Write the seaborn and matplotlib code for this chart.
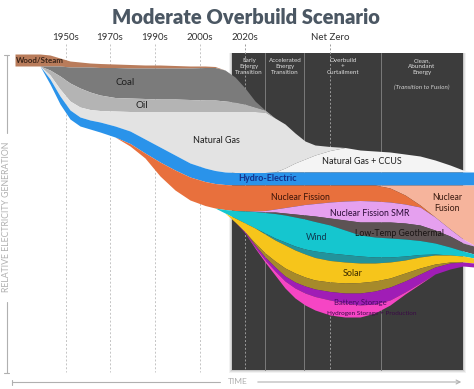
import numpy as np
import pandas as pd
import matplotlib
matplotlib.use("Agg")
import matplotlib.pyplot as plt
from matplotlib.patches import Rectangle
import seaborn as sns

# ---------------- data (relative generation, stacked from the top edge) ----------------
x_pos = [15, 40, 50, 60, 70, 80, 90, 100, 115, 130, 145, 160, 175, 190, 205, 215, 225, 235,
         245, 255, 265, 275, 285, 295, 305, 315, 330, 345, 360, 375, 390, 405, 420, 435, 450, 463, 474]
top_edge = [54, 54, 55, 58, 61, 62, 63, 63.5, 64, 64.5, 65, 65, 65.5, 66, 66, 66.5, 70, 77,
            88, 101, 110, 118, 124, 133, 141, 145, 146.5, 147.5, 150, 151, 152, 154, 156, 160, 165, 170, 172]

wood = [12, 12, 11, 8, 6, 5, 4, 4, 3.5, 3.5, 3, 3, 2.5, 2, 1.5, 1] + [0] * 21
coal = [0, 0, 4, 10, 16, 21, 25, 27.5, 30, 30, 30.5, 31, 31, 31.5, 32.5, 32.5, 31, 25, 16, 6] + [0] * 17
oil = [0, 0, 5, 13, 18, 19, 17.5, 15.5, 13.5, 13.5, 13, 12.5, 12.5, 12, 11.5, 11.5, 10.5, 9.5, 7.5, 4.5, 2] + [0] * 16
gas = [0, 0, 4, 7, 9, 10, 10.5, 11.5, 15, 19.5, 27.5, 35.5, 43.5, 51.5, 56.5, 59, 60.5, 61, 61, 61, 60.5,
       54, 44, 30, 18, 10, 4] + [0] * 10
gas_ccus = [0] * 22 + [4, 9, 13, 17, 21.5, 24.5, 22, 21, 20, 18, 16, 12, 7, 2, 0]
hydro = [0, 0, 5, 8, 9, 9, 9, 10, 11, 12.5, 14, 15, 15, 14, 13.5, 13, 12.5, 12.5, 12.5, 12.5, 12.5] + [13] * 16
fusion = [0] * 30 + [3, 10, 20, 32, 44, 54, 60]
fission = [0] * 9 + [2.5, 5, 14, 20, 23, 24, 24.5, 25, 25.5, 26, 26, 25.5, 24, 22.5, 21, 19.5, 18.5, 17, 16,
                     15.5, 16, 14, 9, 2, 0, 0, 0, 0]
smr = [0] * 19 + [0.5, 1.5, 3, 5.5, 8, 10.5, 12.5, 16, 19, 21.5, 21, 20, 19, 18, 13, 7, 4, 1]
geothermal = [0] * 20 + [0.5, 1.5, 2, 3, 4, 5.5, 7, 10, 13, 15, 16, 16, 15.5, 13, 11, 8, 8]
wind = [0] * 16 + [3.5, 7.5, 12, 16.5, 20.5, 24.5, 27, 29, 30, 29.5, 28, 24.5, 21, 20, 19, 17, 14, 11, 8, 5, 4]
wind_curtailed = [0] * 20 + [1, 2, 3, 4, 5, 6.5, 7.5, 7.5, 7, 6, 5, 4, 2.5, 1, 0, 0, 0]
solar = [0] * 17 + [4, 9, 15, 19, 21, 23, 23, 23, 22.5, 21.5, 21, 19.5, 18, 16, 13, 11, 9, 7, 6, 5]
solar_curtailed = [0] * 19 + [2, 4, 6, 8, 9, 9, 9, 9.5, 10, 10.5, 10, 9, 8, 6, 3, 1, 0, 0]
battery = [0] * 18 + [1, 2, 3, 4, 5, 6, 7, 7.5, 8.5, 10, 12, 13, 13, 11, 9, 7, 6, 4, 4]
hydrogen = [0] * 19 + [1, 2, 4, 7, 10, 12, 13.5, 15, 14, 12, 9, 5, 2, 1, 0, 0, 0, 0]

layer_names = ["Wood/Steam", "Coal", "Oil", "Natural Gas", "Natural Gas + CCUS", "Hydro-Electric",
               "Nuclear Fusion", "Nuclear Fission", "Nuclear Fission SMR", "Low-Temp Geothermal",
               "Wind", "Wind (curtailed)", "Solar", "Solar (curtailed)", "Battery Storage",
               "Hydrogen Storage + Production"]
layer_values = [wood, coal, oil, gas, gas_ccus, hydro, fusion, fission, smr, geothermal,
                wind, wind_curtailed, solar, solar_curtailed, battery, hydrogen]
layer_colors = ["#b97c5b", "#7b7b7b", "#b4b4b4", "#e3e3e3", "#f4f4f4", "#2a93ea",
                "#f6b49c", "#e8703d", "#e5a0ef", "#5d5354", "#15c6cf", "#22939b",
                "#f6c51b", "#a68a2b", "#a01db6", "#f545c4"]

decade_labels = ["1950s", "1970s", "1990s", "2000s", "2020s", "Net Zero"]
decade_x = [66, 110, 155, 200, 245, 330]

phase_labels = ["Early\nEnergy\nTransition", "Accelerated\nEnergy\nTransition",
                "Overbuild\n+\nCurtailment", "Clean,\nAbundant\nEnergy"]
phase_x = [249, 285, 343, 422]

# ---------------- figure ----------------
sns.set_theme(style="white")
plt.rcParams["font.family"] = ["Lato", "DejaVu Sans"]

fig = plt.figure(figsize=(4.74, 3.89), dpi=100)
ax = fig.add_axes([0, 0, 1, 1])
ax.set_xlim(0, 474)
ax.set_ylim(389, 0)
ax.axis("off")

# dark scenario panel with soft shadow
for i, a in enumerate([0.05, 0.07, 0.1]):
    off = 3 - i
    ax.add_patch(Rectangle((232 - off, 53), 231 + 2 * off, 317 + off, color="black", alpha=a, lw=0, zorder=1))
ax.add_patch(Rectangle((232, 53), 231, 317, color="#3c3c3c", lw=0, zorder=1.2))
for sx in [265, 304, 381]:
    ax.plot([sx, sx], [53, 370], color="#7a7a7a", lw=0.7, zorder=1.5)

# decade guide lines
for dx in decade_x:
    inside = dx > 232
    ax.plot([dx, dx], [44, 372 if not inside else 370], color="#c4c4c4" if not inside else "#9a9a9a",
            lw=0.7, ls=(0, (2, 2)), zorder=1.6)
for lbl, dx in zip(decade_labels, decade_x):
    ax.text(dx, 37, lbl, ha="center", va="center", fontsize=7, color="#333333", zorder=5)

# phase texts
for lbl, px in zip(phase_labels, phase_x):
    ax.text(px, 58, lbl, ha="center", va="top", fontsize=4.5, color="#dcdcdc",
            linespacing=1.3, zorder=5)
ax.text(422, 87, "(Transition to Fusion)", ha="center", va="center", fontsize=4.5,
        color="#cfcfcf", style="italic", zorder=5)

# stacked stream
vals = np.array(layer_values, dtype=float)
bounds = np.array(top_edge, dtype=float) + np.vstack([np.zeros(len(x_pos)), np.cumsum(vals, axis=0)])
rows = []
for i, (name, col) in enumerate(zip(layer_names, layer_colors)):
    ax.fill_between(x_pos, bounds[i], bounds[i + 1], where=vals[i] > 0, interpolate=True,
                    color=col, lw=0, zorder=3 + i * 0.01)
    for xv, yv, v in zip(x_pos, bounds[i + 1], vals[i]):
        rows.append({"x": xv, "y": yv, "layer": name, "v": v})
df = pd.DataFrame(rows)

# title
ax.text(246, 17, "Moderate Overbuild Scenario", ha="center", va="center", fontsize=14.5,
        fontweight="heavy", color="#4b5763")

# stream labels
lab = dict(ha="center", va="center", zorder=6)
ax.text(16, 60, "Wood/Steam", ha="left", va="center", fontsize=5.8, fontweight="bold", color="#3a2418", zorder=6)
ax.text(125, 82, "Coal", fontsize=7, color="#1e1e1e", **lab)
ax.text(142, 105, "Oil", fontsize=7, color="#1e1e1e", **lab)
ax.text(216, 140, "Natural Gas", fontsize=6.5, color="#1e1e1e", **lab)
ax.text(362, 161, "Natural Gas + CCUS", fontsize=6.5, color="#1e1e1e", **lab)
ax.text(268, 178, "Hydro-Electric", fontsize=6.5, fontweight="bold", color="#15308a", **lab)
ax.text(300, 197, "Nuclear Fission", fontsize=6.3, color="#3a1408", **lab)
ax.text(370, 213, "Nuclear Fission SMR", fontsize=6.3, color="#2a0a35", **lab)
ax.text(447, 203, "Nuclear\nFusion", fontsize=6.3, color="#3a1a10", linespacing=1.3, **lab)
ax.text(400, 233, "Low-Temp Geothermal", fontsize=6.3, color="#1a1414", **lab)
ax.text(317, 237, "Wind", fontsize=6.5, color="#0e3850", **lab)
ax.text(353, 274, "Solar", fontsize=6.5, color="#3a2a00", **lab)
ax.text(360, 302, "Battery Storage", fontsize=5.5, color="#4a0a62", **lab)
ax.text(372, 313, "Hydrogen Storage + Production", fontsize=4.6, color="#3a0a45", **lab)

# axis annotations
gc = "#b0b0b0"
ax.plot([7, 7], [55, 133], color=gc, lw=0.8)
ax.plot([4.5, 9.5], [55, 55], color=gc, lw=0.8)
ax.plot([7, 7], [302, 373], color=gc, lw=0.8)
ax.plot([4.5, 9.5], [373, 373], color=gc, lw=0.8)
ax.text(7, 217, "RELATIVE ELECTRICITY GENERATION", rotation=90, ha="center", va="center",
        fontsize=6.3, color=gc)
ax.plot([12, 220], [382, 382], color=gc, lw=0.8)
ax.plot([12, 12], [379.5, 384.5], color=gc, lw=0.8)
ax.text(238, 382, "TIME", ha="center", va="center", fontsize=6, color=gc)
ax.annotate("", xy=(464, 382), xytext=(255, 382),
            arrowprops=dict(arrowstyle="->", color=gc, lw=0.8, mutation_scale=7))

fig.savefig("out.png", dpi=100)
